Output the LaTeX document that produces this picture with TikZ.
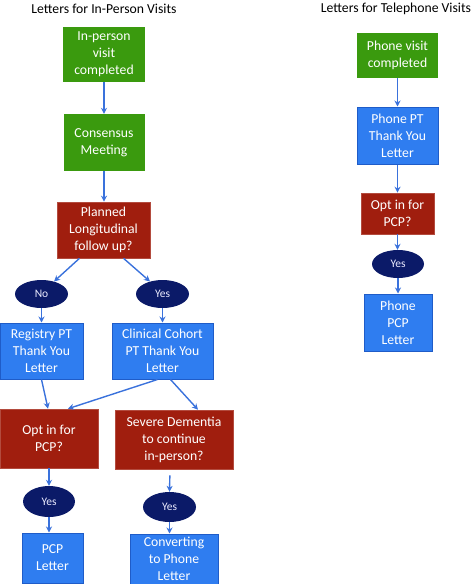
\documentclass[tikz,border=0pt]{standalone}
\usepackage{fontspec}
\setmainfont{Carlito}
\usetikzlibrary{shapes.geometric,arrows.meta}
\definecolor{kgreen}{HTML}{3A9A0E}
\definecolor{kred}{HTML}{A01E0E}
\definecolor{kblue}{HTML}{2F7DF0}
\definecolor{kblueln}{HTML}{1F5CC8}
\definecolor{knavy}{HTML}{0B1A68}
\definecolor{karrow}{HTML}{3A72DC}
\tikzset{
 box/.style={rectangle,align=center,text=white,inner sep=0pt,font=\fontsize{13.7}{17}\selectfont},
 gbox/.style={box,fill=kgreen},
 rbox/.style={box,fill=kred,draw=kred!80!white,line width=0.6pt},
 bbox/.style={box,fill=kblue,draw=kblueln,line width=1pt},
 yesno/.style={ellipse,fill=knavy,text=blue!8!white,inner sep=0pt,font=\fontsize{11.5}{14}\selectfont},
 arr/.style={draw=karrow,line width=1.4pt,-{Stealth[length=6pt,width=6pt]}}
}
\begin{document}
\begin{tikzpicture}[x=1pt,y=-1pt]
\useasboundingbox (0,0) rectangle (474,584);
\node[font=\fontsize{13.7}{17}\selectfont] (tleft) at (104,9) {Letters for In-Person Visits};
\node[font=\fontsize{13.7}{17}\selectfont] (tright) at (396,9) {Letters for Telephone Visits};
\node[gbox,minimum width=82pt,minimum height=55pt] (visit) at (104,54.5) {In-person\\visit\\completed};
\node[gbox,minimum width=81pt,minimum height=57pt] (consensus) at (104,142.5) {Consensus\\Meeting};
\node[rbox,minimum width=93pt,minimum height=56pt] (planned) at (103.5,230) {Planned\\Longitudinal\\follow up?};
\node[yesno,minimum width=53pt,minimum height=28pt] (no) at (41.5,294) {No};
\node[yesno,minimum width=53pt,minimum height=28pt] (yesa) at (162.5,294) {Yes};
\node[bbox,minimum width=83pt,minimum height=56pt] (registry) at (41.5,351) {Registry PT\\Thank You\\Letter};
\node[bbox,minimum width=101pt,minimum height=56pt] (clinical) at (162.5,351) {Clinical Cohort\\PT Thank You\\Letter};
\node[rbox,minimum width=98pt,minimum height=59pt] (optin) at (49,438.5) {Opt in for\\PCP?};
\node[rbox,minimum width=118pt,minimum height=59pt] (severe) at (174,439.5) {Severe Dementia\\to continue\\in-person?};
\node[yesno,minimum width=52pt,minimum height=31pt] (yesb) at (49,501.5) {Yes};
\node[yesno,minimum width=53pt,minimum height=30pt] (yesc) at (169.5,507) {Yes};
\node[bbox,minimum width=61pt,minimum height=50pt] (pcp) at (52.5,558) {PCP\\Letter};
\node[bbox,minimum width=88pt,minimum height=50pt] (convert) at (174,559) {Converting\\to Phone\\Letter};
\node[gbox,minimum width=81pt,minimum height=45pt] (phone) at (397.5,55.5) {Phone visit\\completed};
\node[bbox,minimum width=81pt,minimum height=57pt] (phonept) at (397.5,135.5) {Phone PT\\Thank You\\Letter};
\node[rbox,minimum width=73pt,minimum height=41pt] (optinb) at (397.5,213.5) {Opt in for\\PCP?};
\node[yesno,minimum width=52pt,minimum height=28pt] (yesd) at (398,264) {Yes};
\node[bbox,minimum width=68pt,minimum height=57pt] (phonepcp) at (398,322.5) {Phone\\PCP\\Letter};
\foreach \ka/\kb in {visit/consensus,consensus/planned,no/registry,yesa/clinical,optin/yesb,phone/phonept,phonept/optinb,optinb/yesd,yesd/phonepcp}
 {\draw[arr] (\ka.south) -- (\ka.south |- \kb.north);}
\draw[arr] ([xshift=-24pt]planned.south) -- (no.45);
\draw[arr] ([xshift=20pt]planned.south) -- (yesa.135);
\draw[arr] (registry.south) -- ([xshift=-1pt]optin.north);
\draw[arr] ([xshift=-5pt]clinical.south) -- ([xshift=19pt]optin.north);
\draw[arr] ([xshift=8pt]clinical.south) -- ([xshift=24pt]severe.north);
\draw[arr,shorten <=6pt] ([xshift=-4pt]severe.south) -- (yesc.north);
\draw[arr] (yesb.south) -- (yesb.south |- pcp.north);
\draw[arr] (yesc.south) -- (yesc.south |- convert.north);
\end{tikzpicture}
\end{document}
